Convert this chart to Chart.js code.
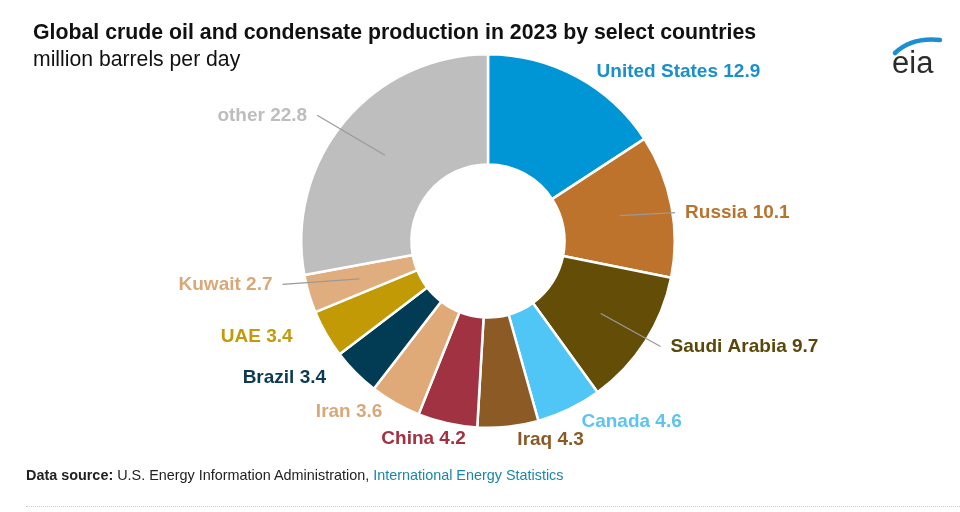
<!DOCTYPE html>
<html>
<head>
<meta charset="utf-8">
<script src="https://cdn.jsdelivr.net/npm/chart.js@4"></script>
<style>
  body { margin: 0; background: #fff; font-family: "Liberation Sans", Arial, sans-serif; }
  #wrap { position: relative; width: 960px; height: 512px; overflow: hidden; }
  #pie { position: absolute; left: 0; top: 0; }
  .title { position: absolute; left: 33px; top: 20px; font-size: 21.3px; font-weight: bold; color: #111; }
  .sub { position: absolute; left: 33px; top: 47px; font-size: 21.2px; color: #111; }
  .source { position: absolute; left: 26px; top: 467px; font-size: 14.4px; color: #222; }
  .source a { color: #1a86a8; text-decoration: none; }
  .rule { position: absolute; left: 26px; right: 0; top: 506px; border-top: 1px dotted #cfcfcf; }
  .logo { position: absolute; left: 890px; top: 34px; width: 60px; height: 46px; }
</style>
</head>
<body>
<div id="wrap">
  <canvas id="pie" width="960" height="512"></canvas>
  <div class="title">Global crude oil and condensate production in 2023 by select countries</div>
  <div class="sub">million barrels per day</div>
  <div class="source"><b>Data source:</b> U.S. Energy Information Administration, <a>International Energy Statistics</a></div>
  <div class="rule"></div>
  <svg class="logo" viewBox="0 0 60 46">
    <path d="M5 19 Q 22 3 50 6" stroke="#1b8fd0" stroke-width="4.5" fill="none" stroke-linecap="round"/>
    <text x="2" y="39" font-family="Liberation Sans, Arial" font-size="31" fill="#2b2b2b">eia</text>
  </svg>
</div>
<script>
const countries = ['United States', 'Russia', 'Saudi Arabia', 'Canada', 'Iraq', 'China', 'Iran', 'Brazil', 'UAE', 'Kuwait', 'other'];
const production = [12.9, 10.1, 9.7, 4.6, 4.3, 4.2, 3.6, 3.4, 3.4, 2.7, 22.8];
const sliceColors = ['#0096d6', '#bd732c', '#634d07', '#4fc6f5', '#8c5a24', '#a13241', '#dfaa78', '#013b54', '#c29a06', '#e0ae7e', '#bebebe'];
const labelColors = ['#1a8fc9', '#b8732f', '#5a480a', '#5bc4f0', '#8a5a26', '#a23241', '#d9a878', '#0c3a50', '#c29a0a', '#d9a878', '#bdbdbd'];
const hasLeader = [false, true, true, false, false, false, false, false, false, true, true];
// small hand nudges for label placement [dx outward, dy]
const nudge = [[14, 6], [-8, 10], [6, -4], [7, 2], [8, 1], [-21, 4], [7, -2], [21, -3], [23, -3], [15, -14], [19, 4]];

const sliceLabels = {
  id: 'sliceLabels',
  afterDatasetsDraw(chart) {
    const ctx = chart.ctx;
    const arcs = chart.getDatasetMeta(0).data;
    ctx.save();
    ctx.font = 'bold 19px "Liberation Sans", Arial, sans-serif';
    ctx.textBaseline = 'middle';
    arcs.forEach((arc, i) => {
      const p = arc.getProps(['x', 'y', 'startAngle', 'endAngle', 'outerRadius'], true);
      const mid = (p.startAngle + p.endAngle) / 2;
      const cos = Math.cos(mid), sin = Math.sin(mid);
      const right = cos >= 0;
      const r = p.outerRadius + (hasLeader[i] ? 16 : 12);
      let x = p.x + cos * r + nudge[i][0] * (right ? 1 : -1);
      let y = p.y + sin * r + nudge[i][1];
      if (hasLeader[i]) {
        ctx.strokeStyle = '#9a9a9a';
        ctx.lineWidth = 1.2;
        ctx.beginPath();
        ctx.moveTo(p.x + cos * 134, p.y + sin * 134);
        ctx.lineTo(x - (right ? 4 : -4), y);
        ctx.stroke();
        x += right ? 6 : -6;
      }
      ctx.fillStyle = labelColors[i];
      ctx.textAlign = right ? 'left' : 'right';
      ctx.fillText(countries[i] + ' ' + production[i], x, y);
    });
    ctx.restore();
  }
};

new Chart(document.getElementById('pie'), {
  type: 'doughnut',
  data: {
    labels: countries,
    datasets: [{
      data: production,
      backgroundColor: sliceColors,
      borderColor: '#ffffff',
      borderWidth: 2.5,
      hoverOffset: 0
    }]
  },
  options: {
    responsive: false,
    animation: false,
    cutout: '41%',
    layout: { padding: { left: 300, right: 284, top: 53, bottom: 83 } },
    plugins: {
      legend: { display: false },
      tooltip: { enabled: false }
    }
  },
  plugins: [sliceLabels]
});
</script>
</body>
</html>
